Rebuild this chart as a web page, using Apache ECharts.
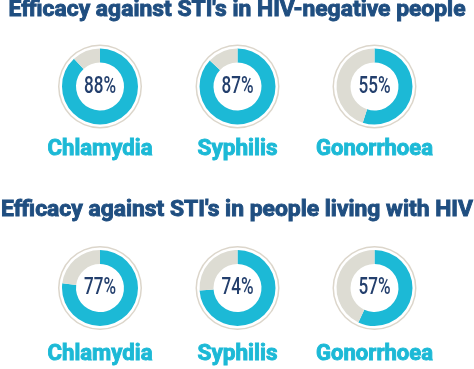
<!DOCTYPE html>
<html>
<head>
<meta charset="utf-8">
<script src="https://cdn.jsdelivr.net/npm/echarts@6/dist/echarts.min.js"></script>
<style>html,body{margin:0;padding:0;background:#fff}#c{width:474px;height:369px}</style>
</head>
<body>
<div id="c"></div>
<script>
const titles = ["Efficacy against STI's in HIV-negative people", "Efficacy against STI's in people living with HIV"];
const categories = ['Chlamydia', 'Syphilis', 'Gonorrhoea'];
const hivNegativeValues = [88, 87, 55];
const hivPositiveValues = [77, 74, 57];

const FONT = 'Roboto, "Noto Sans", sans-serif';
const CYAN = '#1cb9d6';
const GREY = '#dddcd3';
const RING = '#dcd6cb';
const NAVY = '#233f6d';
const TITLE = '#1f4e80';

const colX = [100, 237.5, 374.5];
const rowY = [86.5, 288];
const labelY = [149, 354.5];
const titleY = [10, 210];
const titleW = [457, 472];
const labelW = [105, 80, 117];
const pctW = 32;

const ctx = document.createElement('canvas').getContext('2d');
function fit(text, font, w) { ctx.font = font; return w / ctx.measureText(text).width; }

const TITLE_FONT = 'bold 22px ' + FONT;
const LABEL_FONT = 'bold 22px ' + FONT;
const PCT_FONT = '500 24px ' + FONT;

const rows = [hivNegativeValues, hivPositiveValues];
const series = [];
const graphic = [];

rows.forEach((vals, r) => {
  vals.forEach((v, i) => {
    series.push({
      type: 'pie', silent: true, animation: false,
      center: [colX[i], rowY[r]], radius: [40.5, 42],
      label: { show: false }, labelLine: { show: false },
      data: [{ value: 1, itemStyle: { color: RING } }]
    });
    series.push({
      type: 'pie', silent: true, animation: false,
      center: [colX[i], rowY[r]], radius: [24, 38],
      startAngle: 90, clockwise: true,
      label: { show: false }, labelLine: { show: false },
      data: [
        { value: v, itemStyle: { color: CYAN } },
        { value: 100 - v, itemStyle: { color: GREY } }
      ]
    });
    const pct = v + '%';
    graphic.push({
      type: 'text', x: colX[i], y: rowY[r], scaleX: fit(pct, PCT_FONT, pctW),
      style: { text: pct, fill: NAVY, font: PCT_FONT, align: 'center', verticalAlign: 'middle' }
    });
    graphic.push({
      type: 'text', x: colX[i], y: labelY[r], scaleX: fit(categories[i], LABEL_FONT, labelW[i]),
      style: { text: categories[i], fill: CYAN, stroke: CYAN, lineWidth: 0.9,
               font: LABEL_FONT, align: 'center', verticalAlign: 'middle' }
    });
  });
  graphic.push({
    type: 'text', x: 237, y: titleY[r], scaleX: fit(titles[r], TITLE_FONT, titleW[r]),
    style: { text: titles[r], fill: TITLE, stroke: TITLE, lineWidth: 0.9,
             font: TITLE_FONT, align: 'center', verticalAlign: 'middle' }
  });
});

const chart = echarts.init(document.getElementById('c'), null, { renderer: 'canvas' });
chart.setOption({ backgroundColor: '#fff', animation: false, series, graphic });
</script>
</body>
</html>
